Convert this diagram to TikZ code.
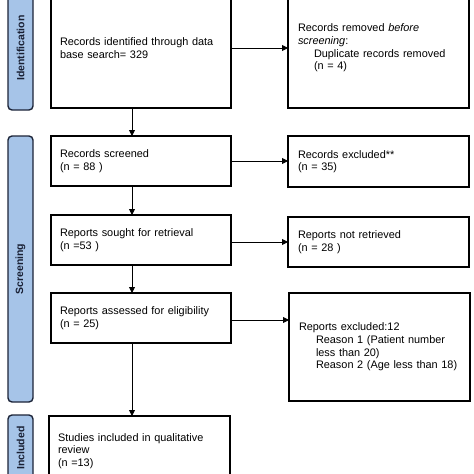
\documentclass[tikz,border=0pt]{standalone}
\usepackage{fontspec}
\setmainfont{Liberation Sans}
\usetikzlibrary{arrows.meta}
\definecolor{sidefill}{RGB}{166,196,232}
\definecolor{sideline}{RGB}{28,36,56}
\definecolor{sidetext}{RGB}{25,32,52}
\begin{document}
\begin{tikzpicture}[x=1pt,y=-1pt,
  box/.style={draw=black,line width=1.5pt,inner xsep=9pt,inner ysep=0pt,outer sep=0pt,align=left,
    font=\fontsize{10.9}{12.6}\selectfont},
  side/.style={draw=sideline,fill=sidefill,line width=1.4pt,rounded corners=4pt,inner sep=0pt,outer sep=0pt,
    minimum height=25pt,rotate=90,font=\bfseries\fontsize{10.5}{12}\selectfont,text=sidetext},
  arr/.style={-{Triangle[length=6pt,width=6pt]},line width=0.9pt}]
\useasboundingbox (0,0) rectangle (474,474);
\clip (0,0) rectangle (474,474);
\fill[white] (0,0) rectangle (474,474);
% side labels
\node[side,minimum width=124pt] (sid) at (20.5,48) {Identification};
\node[side,minimum width=266pt] (sscr) at (20.5,269) {Screening};
\node[side,minimum width=80pt] (sinc) at (20.5,455) {\hspace*{14pt}Included};
% left column
\node[box,text width=162pt,minimum height=120pt] (b1) at (141,48)
  {Records identified through data\\base search= 329};
\node[box,text width=162pt,minimum height=50pt] (b2) at (141,161)
  {Records screened\\(n = 88 )};
\node[box,text width=162pt,minimum height=50pt] (b3) at (141,240)
  {Reports sought for retrieval\\(n =53 )};
\node[box,text width=162pt,minimum height=50pt] (b4) at (141,318)
  {Reports assessed for eligibility\\(n = 25)};
\node[box,text width=163pt,minimum height=70pt] (b5) at (139.5,451)
  {Studies included in qualitative\\review\\(n =13)};
% right column
\node[box,inner xsep=10pt,text width=161pt,minimum height=120pt] (r1) at (378.5,48)
  {Records removed \textit{before}\\\textit{screening}:\\\hspace*{16pt}Duplicate records removed\\\hspace*{16pt}(n = 4)};
\node[box,inner xsep=10pt,text width=161pt,minimum height=51pt] (r2) at (378.5,161.5)
  {Records excluded**\\(n = 35)};
\node[box,inner xsep=10pt,text width=161pt,minimum height=50pt] (r3) at (378.5,242)
  {Reports not retrieved\\(n = 28 )};
\node[box,inner xsep=10pt,text width=161pt,minimum height=108pt] (r4) at (379.5,347)
  {Reports excluded:12\\\hspace*{17pt}Reason 1 (Patient number\\\hspace*{17pt}less than 20)\\\hspace*{17pt}Reason 2 (Age less than 18)};
% vertical arrows
\draw[arr] ([xshift=-9pt]b1.south) -- ([xshift=-9pt]b2.north);
\draw[arr] ([xshift=-9pt]b2.south) -- ([xshift=-9pt]b3.north);
\draw[arr] ([xshift=-9pt]b3.south) -- ([xshift=-9pt]b4.north);
\draw[arr] ([xshift=-9pt]b4.south) -- ([xshift=-9pt]b4.south |- b5.north);
% horizontal arrows
\draw[arr] (b1.east) -- (b1.east -| r1.west);
\draw[arr] (b2.east) -- (b2.east -| r2.west);
\draw[arr] (b3.east |- r3.west) -- (r3.west);
\draw[arr] ([yshift=-2pt]b4.east) -- ([yshift=-2pt]b4.east -| r4.west);
\end{tikzpicture}
\end{document}
